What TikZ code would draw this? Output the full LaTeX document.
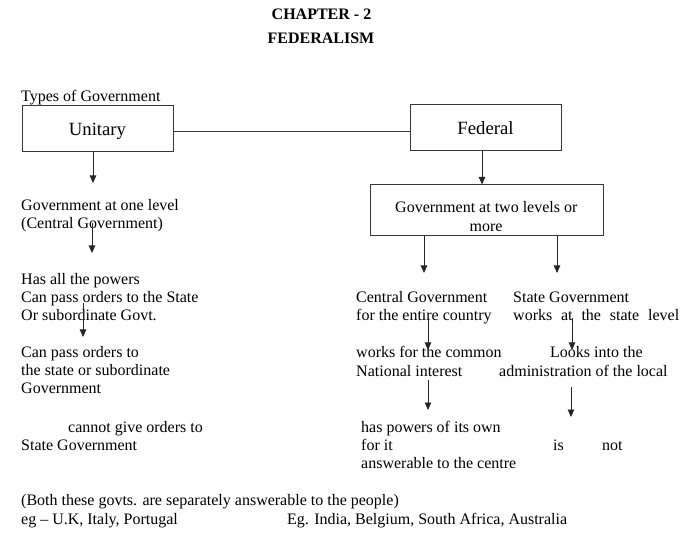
\documentclass[tikz,border=0pt]{standalone}
\usepackage{fontspec}
\setmainfont{Liberation Serif}
\usetikzlibrary{arrows.meta}
\newcommand\bodyf{\fontsize{16}{18.4}\selectfont}
\newcommand\bigf{\fontsize{18.7}{21}\selectfont}
\begin{document}
\begin{tikzpicture}[x=1pt,y=-1pt,
  txt/.style={anchor=base west, inner sep=0pt, font=\bodyf},
  ctxt/.style={anchor=base, inner sep=0pt, font=\bodyf},
  box/.style={draw=black!78, line width=1pt, inner sep=0pt, font=\bigf, text height=14pt, text depth=0pt},
  conn/.style={draw=black!75, line width=0.9pt},
  arr/.style={draw=black!85, line width=0.9pt, -{Triangle[width=6.5pt,length=7.5pt]}}]
\useasboundingbox (0,0) rectangle (686,540);

% title
\node[ctxt, font=\bodyf\bfseries] (t1) at (321.5,20) {CHAPTER - 2};
\node[ctxt, font=\bodyf\bfseries] (t2) at (321,44) {FEDERALISM};

\node[txt] (types) at (21,102) {Types of Government};

% boxes
\node[box, minimum width=151pt, minimum height=46pt] (unitary) at (97.5,129) {Unitary};
\node[box, minimum width=151pt, minimum height=46pt] (federal) at (485.5,128) {Federal};
\node[box, minimum width=233pt, minimum height=51pt] (gov) at (486.5,210.5) {};
\node[ctxt] (g1) at (486.3,213) {Government at two levels or};
\node[ctxt] (g2) at (486,231.5) {more};

\draw[conn] (unitary.east |- 0,131.5) -- (federal.west |- 0,131.5);

% left column
\node[txt] (l1a) at (21,210.5) {Government at one level};
\node[txt] (l1b) at (21,228.5) {(Central Government)};
\node[txt] (l2a) at (21,285) {Has all the powers};
\node[txt] (l2b) at (21,303) {Can pass orders to the State};
\node[txt] (l2c) at (21,321) {Or subordinate Govt.};
\node[txt] (l3a) at (21,357.5) {Can pass orders to};
\node[txt] (l3b) at (21,375.5) {the state or subordinate};
\node[txt] (l3c) at (21,393.5) {Government};
\node[txt] (l4a) at (68,432) {cannot give orders to};
\node[txt] (l4b) at (21,450) {State Government};

% right column
\node[txt] (c1a) at (356,303) {Central Government};
\node[txt] (c1b) at (356,321) {for the entire country};
\node[txt] (s1a) at (513,303) {State Government};
\node[txt] (s1b) at (513,321) {\makebox[166pt][s]{works at the state level}};
\node[txt] (c2a) at (356,358) {works for the common};
\node[txt] (c2b) at (356,376) {National interest};
\node[txt] (s2a) at (550,358) {Looks into the};
\node[txt] (s2b) at (499,376) {administration of the local};
\node[txt] (c3a) at (361,432) {has powers of its own};
\node[txt] (c3b) at (361,450) {for it};
\node[txt] (c3c) at (361,468) {answerable to the centre};
\node[txt] (s3a) at (553,450) {is};
\node[txt] (s3b) at (602,450) {not};

% bottom
\node[txt] (b1) at (21,505.5) {(Both these govts. are separately answerable to the people)};
\node[txt] (b2) at (21,524) {eg -- U.K, Italy, Portugal};
\node[txt] (b3) at (287,524) {Eg. India, Belgium, South Africa, Australia};

% arrow end points
\coordinate (e1) at (93,183);
\coordinate (e3) at (424,273);
\coordinate (e4) at (557,273);
\coordinate (e5s) at (92,223); \coordinate (e5) at (92,253);
\coordinate (e6s) at (83,303); \coordinate (e6) at (83,337);
\coordinate (e7s) at (428,320); \coordinate (e7) at (428,350);
\coordinate (e8s) at (572,318); \coordinate (e8) at (572,350);
\coordinate (e9s) at (428,380); \coordinate (e9) at (428,410);
\coordinate (e10s) at (571,387); \coordinate (e10) at (571,417);

\draw[arr] (unitary.south -| e1) -- (e1);
\draw[arr] (federal.south -| 482,0) -- (gov.north -| 482,0);
\draw[arr] (gov.south -| e3) -- (e3);
\draw[arr] (gov.south -| e4) -- (e4);
\draw[arr] (e5s) -- (e5);
\draw[arr] (e6s) -- (e6);
\draw[arr] (e7s) -- (e7);
\draw[arr] (e8s) -- (e8);
\draw[arr] (e9s) -- (e9);
\draw[arr] (e10s) -- (e10);
\end{tikzpicture}
\end{document}
